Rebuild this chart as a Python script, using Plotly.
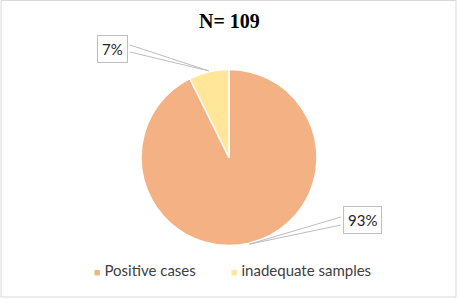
import math
import plotly.graph_objects as go

# ---- data ----
labels = ["Positive cases", "inadequate samples"]
counts = [101, 8]
pct_labels = ["93%", "7%"]
title_text = "N= 109"
colors = ["#F4B183", "#FFE699"]

W, H = 457, 299
CX, CY, R = 229, 157.5, 88  # pie center / radius in px


def px(x):
    return x / W


def py(y):
    return 1 - y / H


fig = go.Figure()
fig.add_trace(go.Pie(
    labels=labels,
    values=counts,
    sort=False,
    direction="clockwise",
    rotation=0,
    marker=dict(colors=colors, line=dict(color="white", width=1.5)),
    textinfo="none",
    hoverinfo="label+percent",
    showlegend=False,
    domain=dict(x=[px(CX - R), px(CX + R)], y=[py(CY + R), py(CY - R)]),
))

# callout boxes with leader lines (endpoints from slice mid-angles)
total = sum(counts)
box_centers = [(362, 220), (112, 49)]
box_halfw = [21, 18]
cum = 0
shapes = []
annotations = []
for i, v in enumerate(counts):
    mid = (cum + v / 2) / total * 2 * math.pi
    cum += v
    ex = CX + (R + 1) * math.sin(mid)
    ey = CY - (R + 1) * math.cos(mid)
    bx, by = box_centers[i]
    edge_x = bx - box_halfw[i] if ex < bx else bx + box_halfw[i]
    for dy in (2, 10) if i == 0 else (1, 8):
        shapes.append(dict(type="line", xref="paper", yref="paper",
                           x0=px(edge_x), y0=py(by + dy - 5), x1=px(ex), y1=py(ey),
                           line=dict(color="#BDBDBD", width=1)))
    annotations.append(dict(
        x=px(bx), y=py(by), xref="paper", yref="paper", showarrow=False,
        text=pct_labels[i], font=dict(family="Lato", size=15, color="#262626"),
        bordercolor="#BFBFBF", borderwidth=1, borderpad=4, bgcolor="white",
        xanchor="center", yanchor="middle"))

# legend as text with coloured squares
legend_x = [145, 301]
for i, lab in enumerate(labels):
    annotations.append(dict(
        x=px(legend_x[i]), y=py(270), xref="paper", yref="paper", showarrow=False,
        text=f"<span style='color:{colors[i]};font-size:11px'>■</span> {lab}",
        font=dict(family="Lato", size=15, color="#404040"),
        xanchor="center", yanchor="middle"))

# title
annotations.append(dict(
    x=px(230), y=py(21), xref="paper", yref="paper", showarrow=False,
    text=f"<b>{title_text}</b>",
    font=dict(family="Liberation Serif", size=20, color="black"),
    xanchor="center", yanchor="middle"))

# outer frame
shapes.append(dict(type="rect", xref="paper", yref="paper",
                   x0=px(1), x1=px(456), y0=py(297), y1=py(0.5),
                   line=dict(color="#D9D9D9", width=1)))

fig.update_layout(
    width=W, height=H,
    margin=dict(l=0, r=0, t=0, b=0),
    paper_bgcolor="white", plot_bgcolor="white",
    shapes=shapes, annotations=annotations,
)

fig.write_html("out.html", config={"displayModeBar": False},
               post_script="document.body.style.margin='0';document.body.style.overflow='hidden';")
